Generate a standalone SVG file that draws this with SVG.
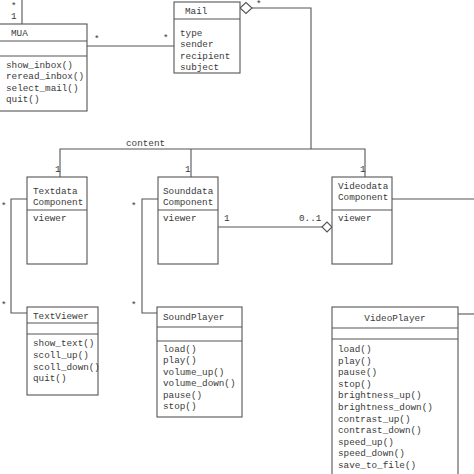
<svg xmlns="http://www.w3.org/2000/svg" width="474" height="474" viewBox="0 0 474 474">
<style>
.b{fill:#fff;stroke:#555;stroke-width:1.1}
.l{fill:none;stroke:#555;stroke-width:1.1}
.d{fill:#fff;stroke:#555;stroke-width:1.1}
text{font-family:"Liberation Mono","DejaVu Sans Mono",monospace;font-size:9.3px;fill:#3a3a3a}
.m{text-anchor:middle}
</style>
<rect width="474" height="474" fill="#fff"/>
<g id="connectors">
<polyline class="l" points="22,0 22,24"/>
<line class="l" x1="87" y1="46" x2="174" y2="46"/>
<polyline class="l" points="252,8 311,8 311,149"/>
<polyline class="l" points="60,177 60,149 365,149 365,177"/>
<line class="l" x1="191" y1="149" x2="191" y2="177"/>
<line class="l" x1="218" y1="227" x2="322" y2="227"/>
<polyline class="l" points="27,199 11,199 11,313 27,313"/>
<polyline class="l" points="158,199 142,199 142,313 157,313"/>
<line class="l" x1="392" y1="199" x2="474" y2="199"/>
<line class="l" x1="458" y1="314" x2="474" y2="314"/>
<polygon class="d" points="240,8 246,2.5 252,8 246,13.5"/>
<polygon class="d" points="322,227 327,222 332,227 327,232"/>
<text x="11" y="9">*</text>
<text x="11" y="19">1</text>
<text x="94" y="42">*</text>
<text x="163" y="41">*</text>
<text x="256" y="7">*</text>
<text x="126" y="146">content</text>
<text x="55" y="172">1</text>
<text x="185" y="172">1</text>
<text x="360" y="172">1</text>
<text x="224" y="221">1</text>
<text x="299" y="221">0..1</text>
<text x="1" y="209">*</text>
<text x="1" y="308">*</text>
<text x="131" y="209">*</text>
<text x="131" y="308">*</text>
</g>
<g id="MUA">
<rect class="b" x="-1" y="24" width="88" height="87"/>
<line class="l" x1="-1" y1="41" x2="87" y2="41"/>
<line class="l" x1="-1" y1="56" x2="87" y2="56"/>
<text x="11" y="36">MUA</text>
<text x="6" y="68">show_inbox()</text>
<text x="6" y="79">reread_inbox()</text>
<text x="6" y="91">select_mail()</text>
<text x="6" y="102">quit()</text>
</g>
<g id="Mail">
<rect class="b" x="174" y="2" width="66" height="71"/>
<line class="l" x1="174" y1="19" x2="240" y2="19"/>
<text x="185" y="14">Mail</text>
<text x="180" y="36">type</text>
<text x="180" y="47">sender</text>
<text x="180" y="59">recipient</text>
<text x="180" y="70">subject</text>
</g>
<g id="Textdata">
<rect class="b" x="27" y="177" width="60" height="87"/>
<line class="l" x1="27" y1="210" x2="87" y2="210"/>
<text x="33" y="194">Textdata</text>
<text x="33" y="205">Component</text>
<text x="33" y="221">viewer</text>
</g>
<g id="Sounddata">
<rect class="b" x="158" y="177" width="60" height="87"/>
<line class="l" x1="158" y1="210" x2="218" y2="210"/>
<text x="163" y="194">Sounddata</text>
<text x="163" y="205">Component</text>
<text x="163" y="221">viewer</text>
</g>
<g id="Videodata">
<rect class="b" x="332" y="177" width="60" height="87"/>
<line class="l" x1="332" y1="210" x2="392" y2="210"/>
<text x="338" y="189">Videodata</text>
<text x="338" y="200">Component</text>
<text x="338" y="221">viewer</text>
</g>
<g id="TextViewer">
<rect class="b" x="27" y="307" width="71" height="88"/>
<line class="l" x1="27" y1="323" x2="98" y2="323"/>
<line class="l" x1="27" y1="334" x2="98" y2="334"/>
<text x="33" y="319">TextViewer</text>
<text x="33" y="346">show_text()</text>
<text x="33" y="358">scoll_up()</text>
<text x="33" y="370">scoll_down()</text>
<text x="33" y="381">quit()</text>
</g>
<g id="SoundPlayer">
<rect class="b" x="157" y="307" width="85" height="110"/>
<line class="l" x1="157" y1="327" x2="242" y2="327"/>
<line class="l" x1="157" y1="341" x2="242" y2="341"/>
<text x="163" y="320">SoundPlayer</text>
<text x="163" y="352">load()</text>
<text x="163" y="363">play()</text>
<text x="163" y="375">volume_up()</text>
<text x="163" y="386">volume_down()</text>
<text x="163" y="398">pause()</text>
<text x="163" y="409">stop()</text>
</g>
<g id="VideoPlayer">
<rect class="b" x="332" y="307" width="126" height="180"/>
<line class="l" x1="332" y1="328" x2="458" y2="328"/>
<line class="l" x1="332" y1="339" x2="458" y2="339"/>
<text class="m" x="395" y="321">VideoPlayer</text>
<text x="338" y="352">load()</text>
<text x="338" y="363.6">play()</text>
<text x="338" y="375.2">pause()</text>
<text x="338" y="386.8">stop()</text>
<text x="338" y="398.4">brightness_up()</text>
<text x="338" y="410">brightness_down()</text>
<text x="338" y="421.6">contrast_up()</text>
<text x="338" y="433.2">contrast_down()</text>
<text x="338" y="444.8">speed_up()</text>
<text x="338" y="456.4">speed_down()</text>
<text x="338" y="468">save_to_file()</text>
</g>
</svg>
